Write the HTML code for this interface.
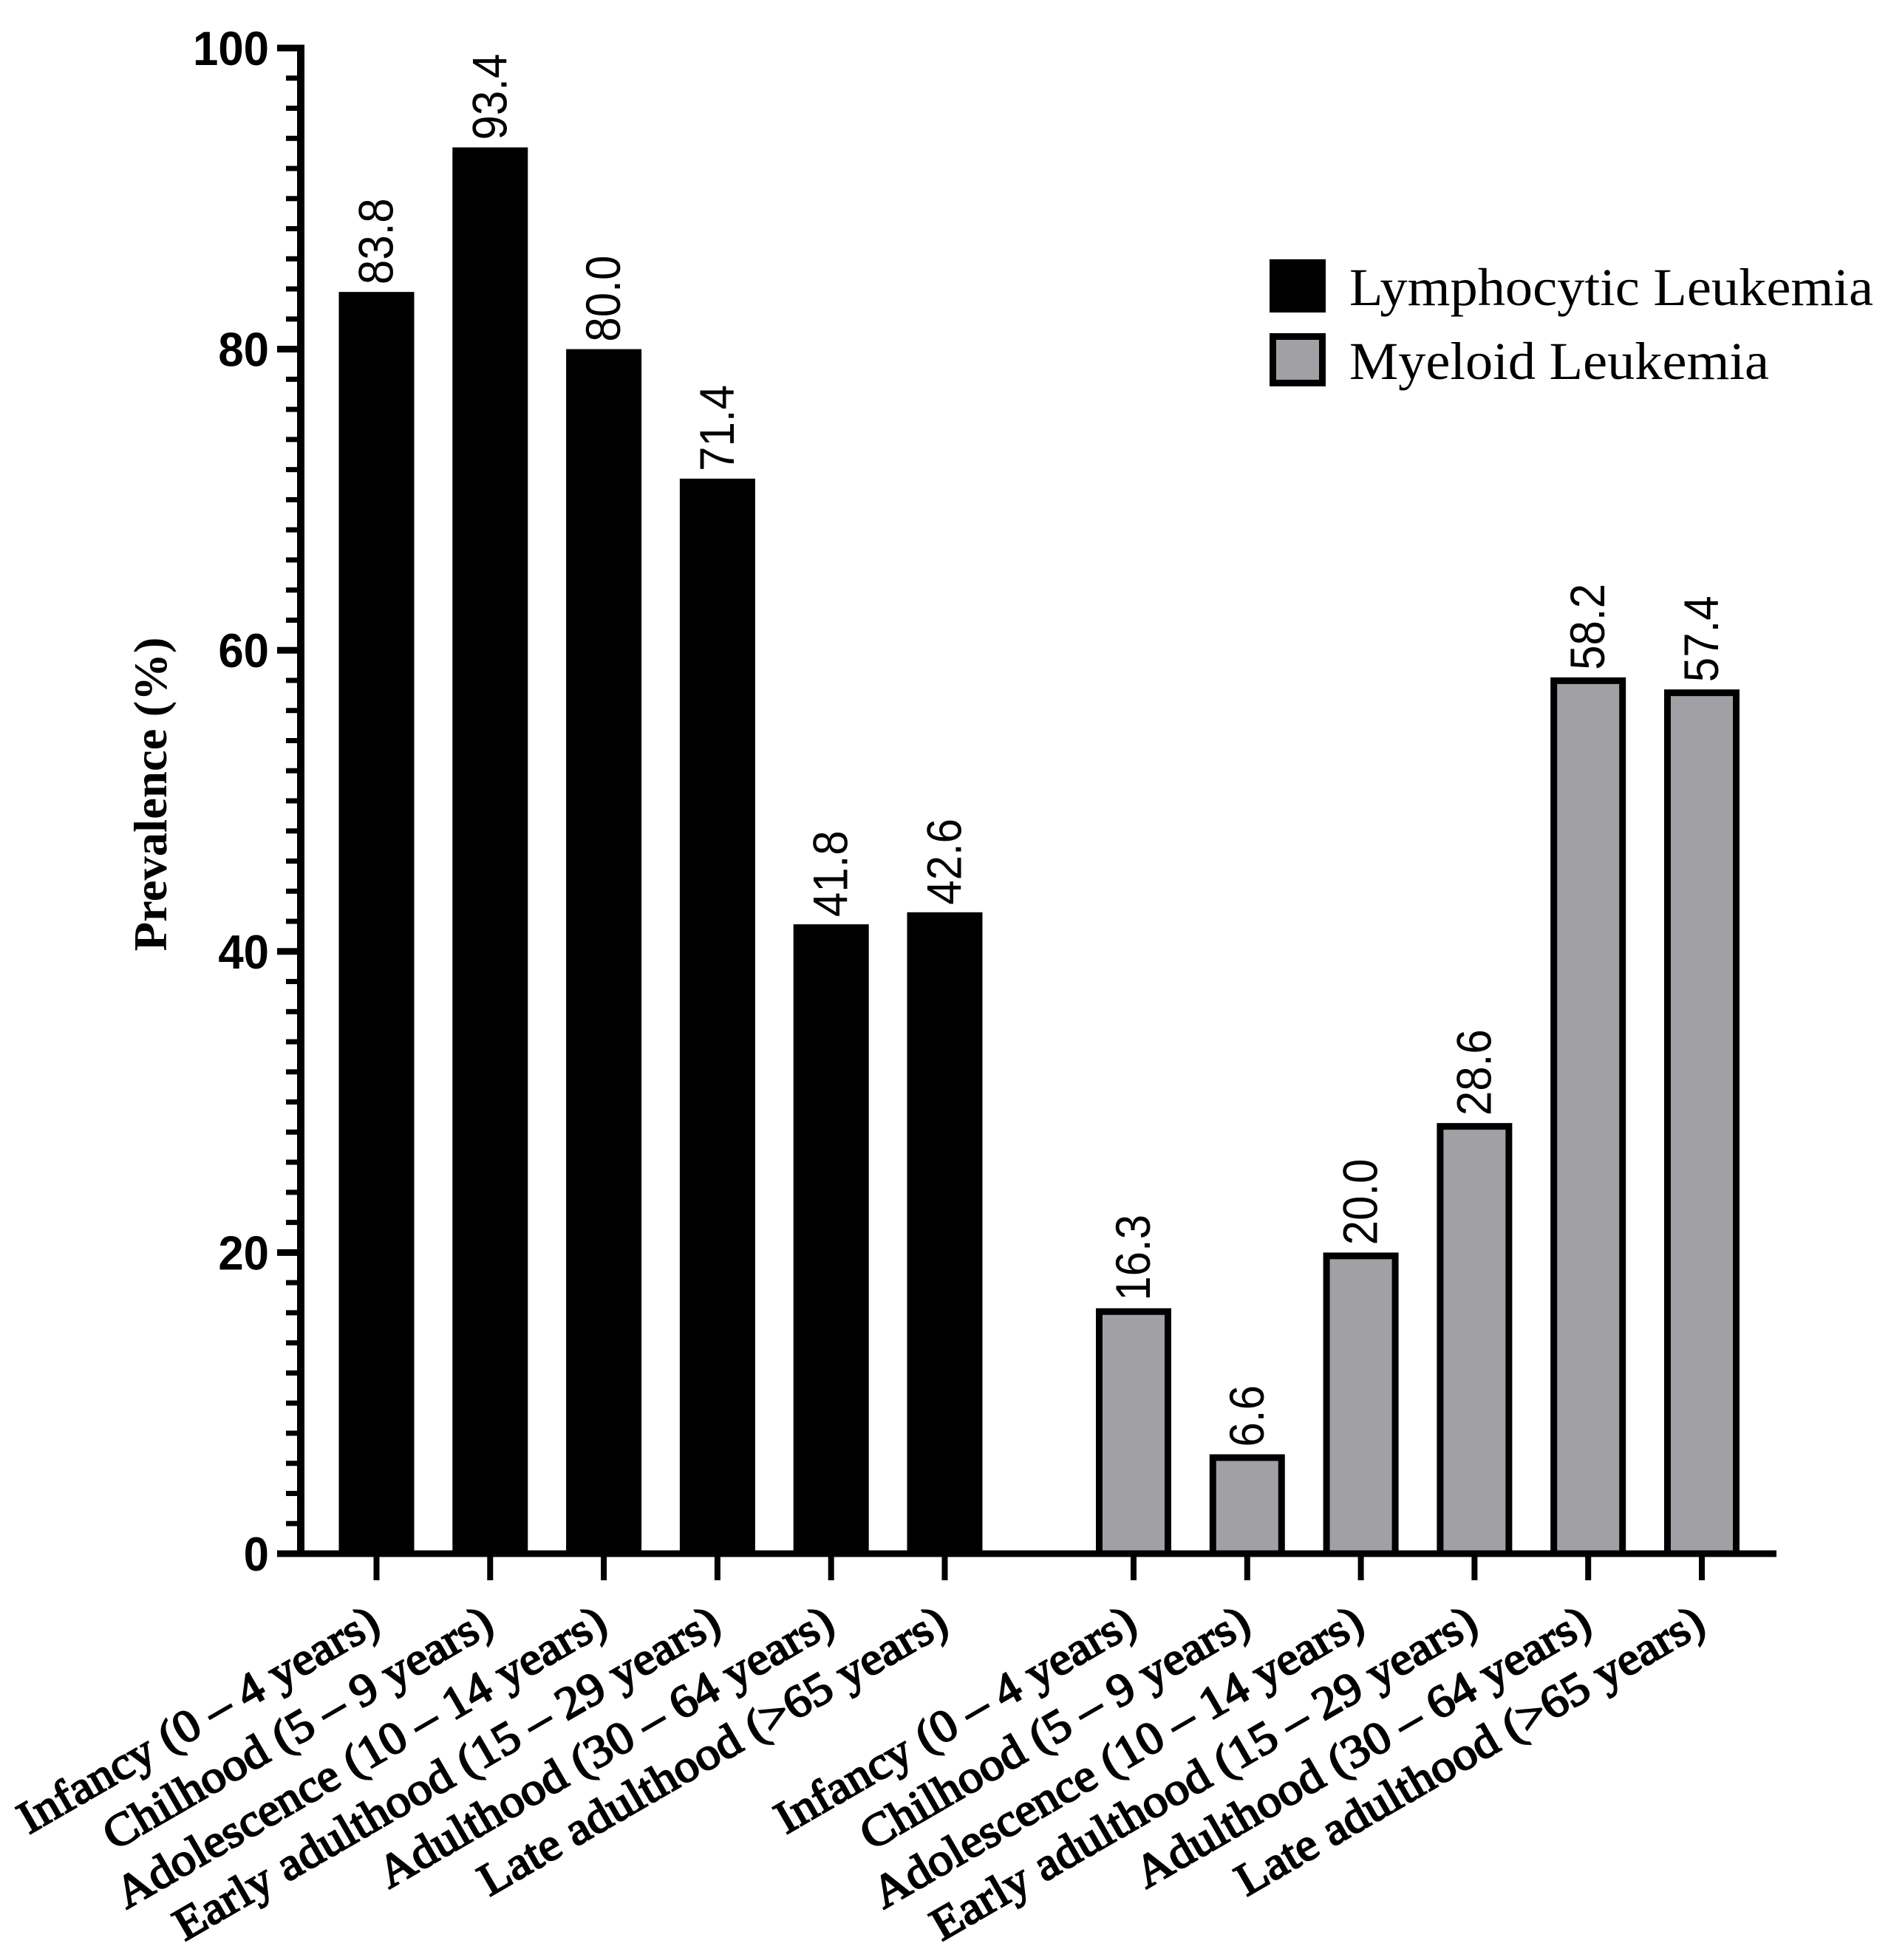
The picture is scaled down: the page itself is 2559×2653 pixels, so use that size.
<!DOCTYPE html>
<html>
<head>
<meta charset="utf-8">
<title>Leukemia prevalence by age group</title>
<style>
html,body{margin:0;padding:0;background:#fff}
svg{display:block}
</style>
</head>
<body>
<svg id="chart" xmlns="http://www.w3.org/2000/svg" width="2559" height="2653" viewBox="0 0 2559 2653">
  <rect x="0" y="0" width="2559" height="2653" fill="#ffffff"/>
  <g id="bars"></g>
  <g id="yaxis"></g>
  <g id="xaxis"></g>
  <text transform="translate(225,1075) rotate(-90)" text-anchor="middle" font-family="'Liberation Serif',serif" font-weight="bold" font-size="63" textLength="425" lengthAdjust="spacingAndGlyphs" fill="#000">Prevalence (%)</text>
  <g>
    <rect x="1718" y="351" width="76" height="72" fill="#000"/>
    <text x="1826" y="413" font-family="'Liberation Serif',serif" font-size="72" textLength="709" lengthAdjust="spacingAndGlyphs" fill="#000">Lymphocytic Leukemia</text>
    <rect x="1722.5" y="455.5" width="67" height="63" fill="#a1a0a5" stroke="#000" stroke-width="9"/>
    <text x="1826" y="513" font-family="'Liberation Serif',serif" font-size="72" textLength="568" lengthAdjust="spacingAndGlyphs" fill="#000">Myeloid Leukemia</text>
  </g>
</svg>
<script>
var categories = ["Infancy (0 – 4 years)","Chilhood (5 – 9 years)","Adolescence (10 – 14 years)","Early adulthood (15 – 29 years)","Adulthood (30 – 64 years)","Late adulthood (>65 years)"];
var lymphocytic = [83.8,93.4,80.0,71.4,41.8,42.6];
var myeloid = [16.3,6.6,20.0,28.6,58.2,57.4];
var yTickLabels = [0,20,40,60,80,100];
var yMinorStep = 2;

var NS = "http://www.w3.org/2000/svg";
var Y0 = 2103, Y100 = 65;
var X1 = 509.5, STEP = 153.8, GROUP2 = 1534, BAR_W = 102;

function yScale(v){ return Y0 - (v/100)*(Y0-Y100); }
function xScale(group,i){ return (group===0 ? X1 : GROUP2) + i*STEP; }

function make(tag, attrs, parent){
  var el = document.createElementNS(NS, tag);
  for (var k in attrs) el.setAttribute(k, attrs[k]);
  parent.appendChild(el);
  return el;
}

var barsG = document.getElementById("bars");
var yG = document.getElementById("yaxis");
var xG = document.getElementById("xaxis");

function drawSeries(values, group, seriesName){
  values.forEach(function(v,i){
    var cx = xScale(group,i), top = yScale(v);
    var r;
    if (group===0){
      r = make("rect",{x:cx-BAR_W/2,y:top,width:BAR_W,height:Y0-top,fill:"#000"},barsG);
    } else {
      r = make("rect",{x:cx-BAR_W/2+4.5,y:top+4.5,width:BAR_W-9,height:Y0-top-4.5,fill:"#a1a0a5",stroke:"#000","stroke-width":9},barsG);
    }
    
    
    var t = make("text",{transform:"translate("+(cx-1.5)+","+(top-10)+") rotate(-90) scale(0.91,1)",x:0,y:23.5,"font-family":"'Liberation Sans',sans-serif","font-size":66,fill:"#000"},barsG);
    t.textContent = v.toFixed(1);
    
    

    var tk = make("rect",{x:cx-4,y:Y0,width:8,height:36,fill:"#000"},xG);
    
    
    var lb = make("text",{transform:"translate("+(cx+8)+",2207) rotate(-30) scale(1.07,1)","text-anchor":"end","font-family":"'Liberation Serif',serif","font-size":62,fill:"#000",stroke:"#000","stroke-width":2.2},xG);
    lb.textContent = categories[i];
    
    
  });
}
drawSeries(lymphocytic,0,"lymphocytic");
drawSeries(myeloid,1,"myeloid");

var yLine = make("rect",{x:402,y:Y100-4.5,width:10,height:Y0-Y100+9,fill:"#000"},yG);


var xLine = make("rect",{x:375,y:Y0-4.5,width:2029,height:9,fill:"#000"},xG);



for (var m=0; m<=100; m+=yMinorStep){
  var major = m%20===0;
  var tick = make("rect",{x:major?375:387,y:yScale(m)-(major?4.5:3.5),width:major?30:18,height:major?9:7,fill:"#000"},yG);
  
  
}
yTickLabels.forEach(function(v){
  var t = make("text",{transform:"translate(364,"+(yScale(v)+23)+") scale(0.95,1)","text-anchor":"end","font-family":"'Liberation Sans',sans-serif","font-weight":"bold","font-size":65,fill:"#000"},yG);
  t.textContent = v;
  
  
});
</script>
</body>
</html>
